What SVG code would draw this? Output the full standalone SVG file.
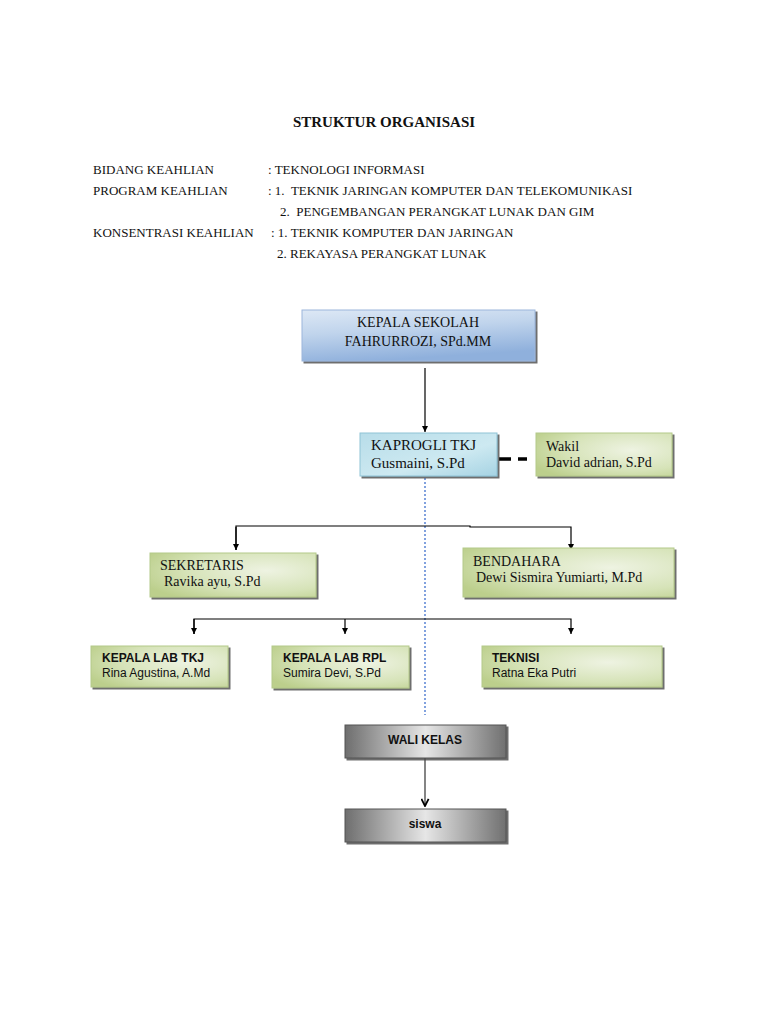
<svg xmlns="http://www.w3.org/2000/svg" width="768" height="1024" viewBox="0 0 768 1024">
<defs>
<linearGradient id="gBlue" x1="0" y1="0" x2="0.3" y2="1">
<stop offset="0" stop-color="#dde8f5"/><stop offset="0.45" stop-color="#c0d4ec"/><stop offset="1" stop-color="#8fb0dc"/>
</linearGradient>
<radialGradient id="gGreen" cx="0.7" cy="0.4" r="0.8">
<stop offset="0" stop-color="#eef3e2"/><stop offset="0.6" stop-color="#d6e3b8"/><stop offset="1" stop-color="#bccf8c"/>
</radialGradient>
<linearGradient id="gCyan" x1="0" y1="0" x2="1" y2="1">
<stop offset="0" stop-color="#b8dde9"/><stop offset="0.6" stop-color="#cde9f1"/><stop offset="1" stop-color="#a6d3e3"/>
</linearGradient>
<linearGradient id="gGray" x1="0" y1="0" x2="1" y2="0">
<stop offset="0" stop-color="#6e6e6e"/><stop offset="0.5" stop-color="#e6e6e6"/><stop offset="1" stop-color="#707070"/>
</linearGradient>
<filter id="sh" x="-5%" y="-10%" width="115%" height="130%">
<feDropShadow dx="2" dy="2" stdDeviation="0.6" flood-color="#4a4a4a" flood-opacity="0.8"/>
</filter>
<marker id="ar" viewBox="0 0 10 10" refX="10" refY="5" markerWidth="5" markerHeight="5" orient="auto">
<path d="M0,0 L10,5 L0,10 z" fill="#000"/>
</marker>
<marker id="ov" viewBox="0 0 10 10" refX="9" refY="5" markerWidth="9" markerHeight="9" markerUnits="userSpaceOnUse" orient="auto">
<path d="M1,1 L9,5 L1,9" fill="none" stroke="#000" stroke-width="2"/>
</marker>
</defs>
<style>
.ser{font-family:"Liberation Serif","Times New Roman",serif;fill:#111}
.hdr{font-size:13px}
.box{font-size:14px}
.san{font-family:"Liberation Sans",Arial,sans-serif;fill:#111;font-size:12px}
.b{font-weight:bold}
.line{stroke:#000;stroke-width:1.2;fill:none}
.blue{stroke:#9cb6db;stroke-width:1}
.green{stroke:#b4c98a;stroke-width:1}
.gray{stroke:#555;stroke-width:1}
</style>
<rect width="768" height="1024" fill="#fff"/>
<g id="header">
<text class="ser b" x="384" y="127" font-size="15" text-anchor="middle">STRUKTUR ORGANISASI</text>
<text class="ser hdr" x="93" y="174">BIDANG KEAHLIAN</text>
<text class="ser hdr" x="268" y="174">: TEKNOLOGI INFORMASI</text>
<text class="ser hdr" x="93" y="195">PROGRAM KEAHLIAN</text>
<text class="ser hdr" x="268" y="195" xml:space="preserve">: 1.  TEKNIK JARINGAN KOMPUTER DAN TELEKOMUNIKASI</text>
<text class="ser hdr" x="280" y="216" xml:space="preserve">2.  PENGEMBANGAN PERANGKAT LUNAK DAN GIM</text>
<text class="ser hdr" x="93" y="237">KONSENTRASI KEAHLIAN</text>
<text class="ser hdr" x="271" y="237">: 1. TEKNIK KOMPUTER DAN JARINGAN</text>
<text class="ser hdr" x="277" y="258">2. REKAYASA PERANGKAT LUNAK</text>
</g>
<g id="connectors">
<line class="line" x1="425" y1="368" x2="425" y2="432" marker-end="url(#ar)"/>
<line x1="499" y1="459" x2="527" y2="459" stroke="#000" stroke-width="3.5" stroke-dasharray="12,7"/>
<line x1="425" y1="478" x2="425" y2="715" stroke="#2f64c8" stroke-width="1.2" stroke-dasharray="2,2"/>
<path class="line" d="M236,550 V526 H470 V527 H571 V550" marker-end="url(#ar)"/>
<line class="line" x1="236" y1="527" x2="236" y2="550" marker-end="url(#ar)"/>
<path class="line" d="M194,634 V619 H571 V634" marker-end="url(#ar)"/>
<line class="line" x1="194" y1="619" x2="194" y2="634" marker-end="url(#ar)"/>
<line class="line" x1="345" y1="619" x2="345" y2="634" marker-end="url(#ar)"/>
<line x1="425" y1="752" x2="425" y2="806" stroke="#333" stroke-width="1.2" marker-end="url(#ov)"/>
</g>
<g id="kepala-sekolah">
<rect x="302" y="310" width="233" height="51" fill="url(#gBlue)" class="blue" filter="url(#sh)"/>
<text class="ser" x="418" y="327" font-size="14" text-anchor="middle">KEPALA SEKOLAH</text>
<text class="ser" x="418" y="346" font-size="14" text-anchor="middle">FAHRURROZI, SPd.MM</text>
</g>
<g id="kaprogli">
<rect x="360" y="433" width="137" height="43" fill="url(#gCyan)" stroke="#8fc3d6" filter="url(#sh)"/>
<text class="ser" x="371" y="450" font-size="15">KAPROGLI TKJ</text>
<text class="ser" x="371" y="468" font-size="15">Gusmaini, S.Pd</text>
</g>
<g id="wakil">
<rect x="536" y="433" width="136" height="43" fill="url(#gGreen)" class="green" filter="url(#sh)"/>
<text class="ser box" x="546" y="451">Wakil</text>
<text class="ser box" x="546" y="467">David adrian, S.Pd</text>
</g>
<g id="sekretaris">
<rect x="150" y="553" width="166" height="44" fill="url(#gGreen)" class="green" filter="url(#sh)"/>
<text class="ser box" x="160" y="570">SEKRETARIS</text>
<text class="ser box" x="164" y="586">Ravika ayu, S.Pd</text>
</g>
<g id="bendahara">
<rect x="463" y="548" width="211" height="49" fill="url(#gGreen)" class="green" filter="url(#sh)"/>
<text class="ser box" x="473" y="566">BENDAHARA</text>
<text class="ser box" x="476" y="582">Dewi Sismira Yumiarti, M.Pd</text>
</g>
<g id="kepala-lab-tkj">
<rect x="91" y="646" width="137" height="41" fill="url(#gGreen)" class="green" filter="url(#sh)"/>
<text class="san b" x="102" y="662">KEPALA LAB TKJ</text>
<text class="san" x="102" y="677">Rina Agustina, A.Md</text>
</g>
<g id="kepala-lab-rpl">
<rect x="272" y="646" width="137" height="42" fill="url(#gGreen)" class="green" filter="url(#sh)"/>
<text class="san b" x="283" y="662">KEPALA LAB RPL</text>
<text class="san" x="283" y="677">Sumira Devi, S.Pd</text>
</g>
<g id="teknisi">
<rect x="482" y="646" width="180" height="41" fill="url(#gGreen)" class="green" filter="url(#sh)"/>
<text class="san b" x="492" y="662">TEKNISI</text>
<text class="san" x="492" y="677">Ratna Eka Putri</text>
</g>
<g id="wali-kelas">
<rect x="345" y="725" width="161" height="33" fill="url(#gGray)" class="gray" filter="url(#sh)"/>
<text class="san b" x="425" y="744" font-size="11" text-anchor="middle">WALI KELAS</text>
</g>
<g id="siswa">
<rect x="345" y="809" width="161" height="33" fill="url(#gGray)" class="gray" filter="url(#sh)"/>
<text class="san b" x="425" y="828" font-size="11" text-anchor="middle">siswa</text>
</g>
</svg>
